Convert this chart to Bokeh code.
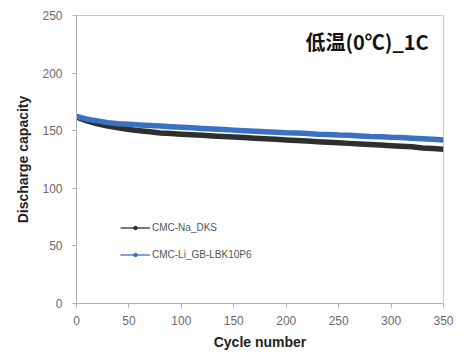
from bokeh.plotting import figure
from bokeh.models import Legend, LegendItem, Label, Range1d, FixedTicker, ColumnDataSource
from bokeh.embed import file_html
from bokeh.resources import INLINE

cycles = [0, 10, 20, 30, 40, 50, 60, 70, 80, 90, 100, 110, 120, 130, 140, 150, 160, 170, 180,
          190, 200, 210, 220, 230, 240, 250, 260, 270, 280, 290, 300, 310, 320, 330, 340, 350]
na_dks = [162, 158.5, 156, 154, 152.5, 151, 150, 149, 148, 147.5, 147, 146.5, 146, 145.5, 145,
          144.5, 144, 143.5, 143, 142.5, 142, 141.5, 141, 140.5, 140, 139.5, 139, 138.5, 138,
          137.5, 137, 136.5, 136, 135, 134.5, 134]
li_gb = [162.5, 160, 158.5, 157, 156, 155.5, 155, 154.5, 154, 153.5, 153, 152.5, 152, 151.5, 151,
         150.5, 150, 149.5, 149, 148.7, 148.3, 148, 147.5, 147, 146.7, 146.3, 146, 145.5, 145,
         144.7, 144.3, 144, 143.5, 143, 142.5, 142]
series_names = ["CMC-Na_DKS", "CMC-Li_GB-LBK10P6"]
x_ticks = [0, 50, 100, 150, 200, 250, 300, 350]
y_ticks = [0, 50, 100, 150, 200, 250]

black = "#2f2f2f"
blue = "#3a72c2"
nan = float("nan")

p = figure(width=466, height=352, output_backend="svg", toolbar_location=None,
           x_range=Range1d(0, 350), y_range=Range1d(0, 250),
           min_border_left=76, min_border_right=23, min_border_top=15, min_border_bottom=49)
p.xgrid.visible = False
p.ygrid.visible = False
p.outline_line_color = "#c8c8c8"
p.outline_line_width = 1

src = ColumnDataSource(dict(x=cycles, a=na_dks, b=li_gb))
p.line("x", "a", source=src, line_width=5.5, color=black)
p.line("x", "b", source=src, line_width=5.5, color=blue)

# legend proxies (not drawn in the plot area)
la = p.line(x=[nan], y=[nan], line_width=1.3, color=black)
ma = p.scatter(x=[nan], y=[nan], size=3, color=black)
lb = p.line(x=[nan], y=[nan], line_width=1.3, color=blue)
mb = p.scatter(x=[nan], y=[nan], size=3, color=blue)
legend = Legend(items=[LegendItem(label=series_names[0], renderers=[la, ma]),
                       LegendItem(label=series_names[1], renderers=[lb, mb])],
                location=(44, 43), padding=0, margin=0, spacing=15,
                glyph_width=30, glyph_height=9, label_standoff=2, label_height=12,
                label_text_font="Liberation Sans", label_text_font_size="10px",
                label_text_color="#555555", border_line_color=None,
                background_fill_alpha=0)
p.add_layout(legend)

for ax in (p.xaxis, p.yaxis):
    ax.axis_line_color = "#b0b0b0"
    ax.major_tick_line_color = "#b0b0b0"
    ax.minor_tick_line_color = None
    ax.major_tick_in = 0
    ax.major_tick_out = 4
    ax.major_label_text_font = "Liberation Sans"
    ax.major_label_text_font_size = "12px"
    ax.major_label_text_color = "#6a6a6a"
    ax.axis_label_text_font = "Liberation Sans"
    ax.axis_label_text_font_style = "bold"
    ax.axis_label_text_color = "#222222"
p.xaxis.ticker = FixedTicker(ticks=x_ticks)
p.yaxis.ticker = FixedTicker(ticks=y_ticks)
p.xaxis.axis_label = "Cycle number"
p.yaxis.axis_label = "Discharge capacity"
p.xaxis.axis_label_text_font_size = "14px"
p.yaxis.axis_label_text_font_size = "14px"
p.xaxis.major_label_standoff = 8
p.yaxis.major_label_standoff = 10
p.xaxis.axis_label_standoff = 6
p.yaxis.axis_label_standoff = 8

title = Label(x=229, y=262, x_units="screen", y_units="screen", text="低温(0℃)_1C",
              text_font="Noto Sans CJK SC", text_font_style="bold", text_font_size="20px",
              text_color="#111111", text_baseline="middle")
p.add_layout(title)

open("out.html", "w").write(file_html(p, INLINE))
